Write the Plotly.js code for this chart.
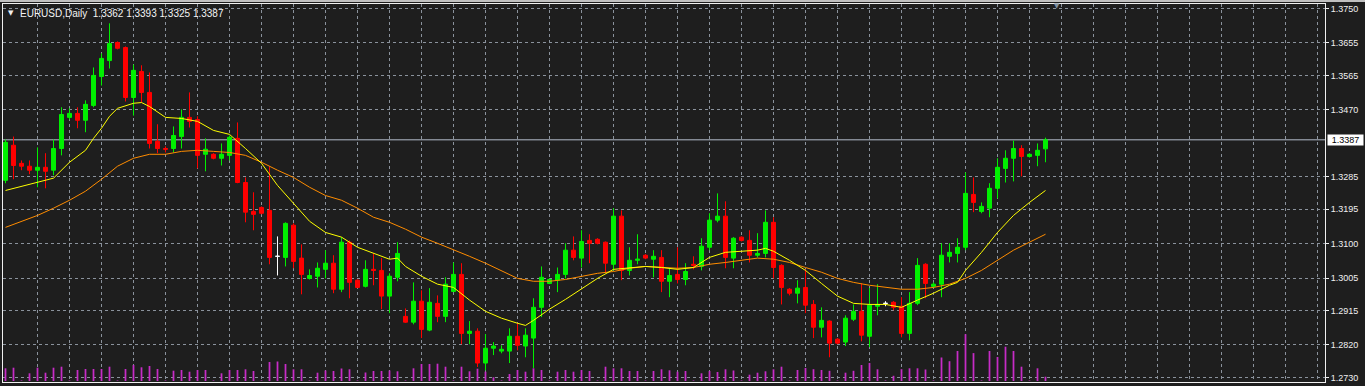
<!DOCTYPE html>
<html><head><meta charset="utf-8">
<script src="https://cdn.plot.ly/plotly-3.0.1.min.js"></script>
<style>html,body{margin:0;padding:0;background:#1e1e1e;overflow:hidden}</style>
</head><body><div id="chart" style="width:1365px;height:386px"></div>
<script>
const symbol = 'EURUSD,Daily';
const openP = [1.3275,1.3372,1.3322,1.3314,1.3303,1.3311,1.3303,1.3363,1.3449,1.3460,
1.3441,1.3482,1.3562,1.3606,1.3656,1.3642,1.3504,1.3576,1.3518,1.3383,
1.3363,1.3363,1.3396,1.3449,1.3443,1.3347,1.3347,1.3336,1.3344,1.3391,
1.3269,1.3189,1.3200,1.3192,1.3065,1.3062,1.3151,1.3060,1.3004,1.3010,
1.3029,1.3046,1.2974,1.3104,1.2999,1.2982,1.3029,1.3026,1.2955,1.3007,
1.2899,1.2883,1.2941,1.2861,1.2935,1.2899,1.2968,1.3015,1.2852,1.2858,
1.2770,1.2811,1.2803,1.2803,1.2844,1.2817,1.2839,1.2924,1.2990,1.2999,
1.3015,1.3082,1.3060,1.3109,1.3112,1.3104,1.3043,1.3176,1.3026,1.3054,
1.3068,1.3057,1.3062,1.2996,1.3015,1.3001,1.3043,1.3037,1.3090,1.3165,
1.3176,1.3060,1.3118,1.3109,1.3068,1.3073,1.3159,1.3040,1.2974,1.2963,
1.2979,1.2932,1.2869,1.2886,1.2836,1.2828,1.2891,1.2913,1.2844,1.2927,
1.2935,1.2938,1.2927,1.2852,1.2935,1.3043,1.2982,1.2988,1.3065,1.3073,
1.3090,1.3236,1.3189,1.3198,1.3253,1.3308,1.3336,1.3363,1.3341,1.3344,
1.3362];
const highP = [1.3388,1.3396,1.3330,1.3330,1.3366,1.3350,1.3388,1.3477,1.3474,1.3477,
1.3496,1.3587,1.3626,1.3709,1.3659,1.3645,1.3595,1.3593,1.3573,1.3430,
1.3369,1.3424,1.3471,1.3518,1.3452,1.3391,1.3350,1.3377,1.3399,1.3435,
1.3283,1.3242,1.3203,1.3314,1.3120,1.3159,1.3156,1.3098,1.3029,1.3048,
1.3082,1.3068,1.3118,1.3109,1.3001,1.3054,1.3073,1.3060,1.3018,1.3104,
1.2921,1.2993,1.2971,1.2977,1.2957,1.3007,1.3048,1.3046,1.2886,1.2866,
1.2850,1.2828,1.2819,1.2866,1.2880,1.2866,1.2949,1.3037,1.3004,1.3034,
1.3101,1.3120,1.3137,1.3126,1.3115,1.3106,1.3198,1.3192,1.3090,1.3126,
1.3071,1.3082,1.3082,1.3032,1.3090,1.3046,1.3065,1.3115,1.3184,1.3239,
1.3217,1.3118,1.3120,1.3137,1.3129,1.3192,1.3173,1.3043,1.2977,1.2999,
1.3029,1.2944,1.2924,1.2888,1.2839,1.2902,1.2932,1.2990,1.2977,1.2988,
1.2941,1.2941,1.2952,1.2966,1.3060,1.3046,1.2993,1.3101,1.3101,1.3115,
1.3297,1.3283,1.3214,1.3267,1.3336,1.3358,1.3385,1.3372,1.3350,1.3377,
1.3393];
const lowP = [1.3267,1.3278,1.3303,1.3292,1.3256,1.3253,1.3289,1.3344,1.3443,1.3419,
1.3408,1.3477,1.3537,1.3584,1.3637,1.3493,1.3454,1.3490,1.3363,1.3350,
1.3352,1.3352,1.3363,1.3421,1.3308,1.3300,1.3333,1.3316,1.3330,1.3267,
1.3159,1.3137,1.3181,1.3043,1.3012,1.3037,1.3032,1.2960,1.3001,1.2979,
1.3004,1.2963,1.2966,1.2949,1.2977,1.2979,1.2985,1.2919,1.2908,1.2996,
1.2881,1.2877,1.2839,1.2858,1.2883,1.2883,1.2966,1.2822,1.2822,1.2759,
1.2750,1.2792,1.2797,1.2770,1.2805,1.2786,1.2756,1.2897,1.2988,1.2966,
1.3004,1.3054,1.3034,1.3046,1.3098,1.3021,1.3026,1.2999,1.3012,1.3043,
1.3057,1.3007,1.2966,1.2952,1.2990,1.2985,1.3029,1.3026,1.3082,1.3159,
1.3032,1.3032,1.3106,1.3048,1.3062,1.3062,1.3004,1.2932,1.2957,1.2935,
1.2908,1.2839,1.2841,1.2786,1.2822,1.2817,1.2886,1.2830,1.2814,1.2902,
1.2927,1.2916,1.2841,1.2833,1.2930,1.2949,1.2979,1.2952,1.3048,1.3048,
1.3082,1.3187,1.3184,1.3173,1.3225,1.3269,1.3272,1.3286,1.3338,1.3314,
1.3325];
const closeP = [1.3380,1.3316,1.3314,1.3303,1.3311,1.3300,1.3363,1.3457,1.3460,1.3441,
1.3485,1.3565,1.3612,1.3653,1.3640,1.3504,1.3579,1.3518,1.3377,1.3363,
1.3361,1.3399,1.3449,1.3438,1.3344,1.3361,1.3336,1.3347,1.3394,1.3269,
1.3187,1.3181,1.3184,1.3062,1.3065,1.3156,1.3051,1.3015,1.3012,1.3032,
1.3046,1.2974,1.3104,1.2993,1.2979,1.3029,1.3026,1.2955,1.3010,1.3073,
1.2883,1.2941,1.2863,1.2938,1.2899,1.2988,1.3015,1.2852,1.2858,1.2770,
1.2811,1.2817,1.2808,1.2844,1.2819,1.2847,1.2924,1.3007,1.3001,1.3015,
1.3082,1.3062,1.3106,1.3101,1.3101,1.3046,1.3176,1.3026,1.3054,1.3057,
1.3060,1.3065,1.2996,1.3012,1.3001,1.3023,1.3040,1.3093,1.3165,1.3176,
1.3062,1.3115,1.3109,1.3068,1.3073,1.3159,1.3034,1.2979,1.2963,1.2977,
1.2930,1.2869,1.2888,1.2825,1.2825,1.2894,1.2913,1.2847,1.2930,1.2932,
1.2935,1.2924,1.2852,1.2935,1.3040,1.2990,1.2988,1.3068,1.3076,1.3090,
1.3239,1.3214,1.3203,1.3253,1.3311,1.3336,1.3363,1.3341,1.3347,1.3358,
1.3387];
const volume = [12700,13300,500,7700,13300,8300,13300,14300,500,11000,
12000,12000,12000,14300,500,12000,16000,13700,15000,12000,
500,10300,11000,9300,11000,11000,500,7700,11000,11000,
11700,10000,500,19000,19500,17000,11700,11700,500,8300,
10500,10000,12500,11700,500,8500,10000,10000,10500,9700,
500,12700,17000,17000,17300,14300,500,14300,9700,12300,
9300,3700,500,7000,11000,9300,12700,11000,500,9300,
11000,9300,11000,10000,500,14300,12700,12700,10000,10000,
500,10000,11700,10700,9300,10000,500,7700,10000,9000,
11700,10500,500,6300,8300,9700,11700,14300,500,11000,
13000,11800,11000,10200,500,8300,10200,16000,18000,11700,
500,5200,11800,12700,12700,11500,500,23500,19800,30000,
46800,27900,500,30000,24000,34300,30000,14300,500,12700,
4300];
const maFastIdx = [0,2,4,6,8,10,11,12,13,14,16,17,18,20,22,24,26,28,30,32,34,36,38,40,42,44,46,48,49,50,52,54,56,58,60,62,64,65,66,68,70,72,74,76,78,80,82,84,86,88,90,92,94,95,96,98,100,102,104,106,108,110,112,114,116,118,119,120,122,124,126,128,130];
const maFast = [1.3247,1.3258,1.3269,1.3281,1.3325,1.3358,1.3391,1.3419,1.3452,1.3474,1.3488,1.3490,1.3479,1.3449,1.3446,1.3438,1.3413,1.3402,1.3363,1.3322,1.3261,1.3211,1.3162,1.3131,1.3118,1.3090,1.3073,1.3057,1.3060,1.3037,1.3010,1.2988,1.2979,1.2944,1.2913,1.2894,1.2880,1.2874,1.2888,1.2919,1.2946,1.2974,1.3004,1.3029,1.3034,1.3037,1.3034,1.3029,1.3034,1.3062,1.3076,1.3079,1.3082,1.3087,1.3079,1.3054,1.3026,1.2990,1.2955,1.2935,1.2932,1.2932,1.2924,1.2944,1.2963,1.2985,1.2993,1.3026,1.3076,1.3131,1.3178,1.3214,1.3247];
const maSlowIdx = [0,2,4,6,8,10,12,14,16,18,20,22,24,26,28,30,32,34,36,38,40,42,44,46,48,50,52,54,56,58,60,62,64,66,68,70,72,74,76,78,80,82,84,86,88,90,92,94,96,98,100,102,104,106,108,110,112,114,116,118,120,122,124,126,128,130];
const maSlow = [1.3145,1.3162,1.3178,1.3198,1.3220,1.3245,1.3278,1.3314,1.3336,1.3347,1.3347,1.3355,1.3358,1.3355,1.3352,1.3344,1.3325,1.3303,1.3283,1.3256,1.3233,1.3220,1.3198,1.3173,1.3159,1.3140,1.3118,1.3101,1.3084,1.3065,1.3046,1.3026,1.3004,1.2996,1.2996,1.3001,1.3010,1.3018,1.3023,1.3032,1.3037,1.3034,1.3032,1.3034,1.3043,1.3048,1.3054,1.3060,1.3057,1.3048,1.3034,1.3021,1.3004,1.2993,1.2985,1.2979,1.2974,1.2974,1.2979,1.2988,1.3004,1.3026,1.3054,1.3082,1.3104,1.3126];
const priceTicks = [1.3750,1.3655,1.3565,1.3470,1.3285,1.3195,1.3100,1.3005,1.2915,1.2820,1.2730];
const priceTickText = ['1.3750','1.3655','1.3565','1.3470','1.3285','1.3195','1.3100','1.3005','1.2915','1.2820','1.2730'];

const BG = '#1e1e1e', GRID = '#8a929c', UP = '#00f000', DN = '#ff0000', VOL = '#c62cc6';
const idx = openP.map((_, i) => i);
const last = idx.length - 1;
const pickSet = f => idx.filter(f);
function candle(ix, col) {
  return {type: 'candlestick', x: ix,
    open: ix.map(i => openP[i]), high: ix.map(i => highP[i]),
    low: ix.map(i => lowP[i]), close: ix.map(i => closeP[i]),
    increasing: {line: {color: col, width: 1}, fillcolor: col},
    decreasing: {line: {color: col, width: 1}, fillcolor: col},
    whiskerwidth: 0, hoverinfo: 'skip', showlegend: false};
}
const gridX = [];
for (let k = 4; k <= 164; k += 4) gridX.push(k);

const traces = [
  {type: 'bar', x: idx, y: volume, yaxis: 'y2', width: 0.22,
   marker: {color: VOL, line: {width: 0}}, hoverinfo: 'skip', showlegend: false},
  candle(pickSet(i => closeP[i] > openP[i]), UP),
  candle(pickSet(i => closeP[i] < openP[i]), DN),
  candle(pickSet(i => closeP[i] === openP[i]), '#ffffff'),
  {type: 'scatter', mode: 'lines', x: maSlowIdx, y: maSlow, line: {color: '#ff8c00', width: 1}, hoverinfo: 'skip', showlegend: false},
  {type: 'scatter', mode: 'lines', x: maFastIdx, y: maFast, line: {color: '#ffff00', width: 1}, hoverinfo: 'skip', showlegend: false}
];

const f4 = v => v.toFixed(4);
const layout = {
  width: 1365, height: 386,
  margin: {l: 3, r: 40, t: 4, b: 4, pad: 0},
  paper_bgcolor: BG, plot_bgcolor: BG,
  showlegend: false, dragmode: false,
  boxgap: 0.5, boxgroupgap: 0,
  xaxis: {range: [-0.3125, 164.9375], tickvals: gridX, showticklabels: false, ticks: '',
    showgrid: true, gridcolor: GRID, griddash: '3px,3px', gridwidth: 1, zeroline: false,
    showline: true, mirror: true, linecolor: '#f0f0f0', linewidth: 1,
    rangeslider: {visible: false}, fixedrange: true},
  yaxis: {range: [1.27176, 1.37624], side: 'right', tickvals: priceTicks, ticktext: priceTickText,
    tickfont: {family: 'Liberation Sans, Arial, sans-serif', size: 9, color: '#f0f0f0'},
    ticks: 'outside', ticklen: 3, tickcolor: '#f0f0f0', tickwidth: 1,
    showgrid: true, gridcolor: GRID, griddash: '3px,3px', gridwidth: 1, zeroline: false,
    showline: true, mirror: true, linecolor: '#f0f0f0', linewidth: 1, fixedrange: true},
  yaxis2: {overlaying: 'y', range: [-1000, 377000], visible: false, fixedrange: true},
  shapes: [
    {type: 'line', xref: 'paper', x0: 0, x1: 1, yref: 'y', y0: closeP[last], y1: closeP[last],
     line: {color: '#b4bccb', width: 1}, layer: 'below'},
    {type: 'rect', xref: 'paper', x0: -0.01, x1: 1.04, yref: 'paper', y0: 1.0053, y1: 1.0115,
     fillcolor: '#c0c0c0', line: {width: 0}}
  ],
  annotations: [
    {xref: 'paper', yref: 'paper', x: 0, y: 1, xanchor: 'left', yanchor: 'middle', xshift: 3, yshift: -9,
     text: '▼', showarrow: false, font: {family: 'DejaVu Sans', size: 7, color: '#f0f0f0'}},
    {xref: 'paper', yref: 'paper', x: 0, y: 1, xanchor: 'left', yanchor: 'middle', xshift: 15, yshift: -9,
     text: symbol + '  ' + [openP[last], highP[last], lowP[last], closeP[last]].map(f4).join(' '),
     showarrow: false, font: {family: 'Liberation Sans, Arial, sans-serif', size: 10, color: '#f4f4f4'}},
    {xref: 'paper', yref: 'y', x: 1, y: closeP[last], xanchor: 'left', yanchor: 'middle', xshift: 1.5,
     text: f4(closeP[last]), showarrow: false, bgcolor: '#ffffff', width: 35, height: 10, borderpad: 0,
     font: {family: 'Liberation Sans, Arial, sans-serif', size: 9, color: '#000000'}},
    {xref: 'paper', yref: 'paper', x: (1057 - 3) / 1322, y: 1, xanchor: 'center', yanchor: 'middle', yshift: -2,
     text: '▼', showarrow: false, font: {family: 'DejaVu Sans', size: 7, color: '#8090a0'}}
  ]
};
Plotly.newPlot('chart', traces, layout, {staticPlot: true, displayModeBar: false});
</script></body></html>
